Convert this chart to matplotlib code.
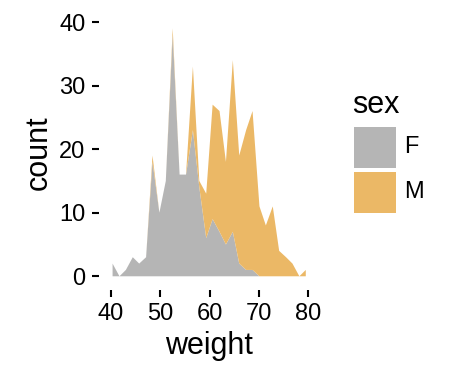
import matplotlib.pyplot as plt
from matplotlib.patches import Rectangle

plt.rcParams['font.family'] = ['Liberation Sans', 'DejaVu Sans']

# bin centres (weight) and counts per sex
weight = [40.3, 41.7, 43.0, 44.4, 45.7, 47.1, 48.4, 49.8, 51.1, 52.5,
          53.9, 55.2, 56.6, 57.9, 59.3, 60.6, 62.0, 63.3, 64.7, 66.0,
          67.4, 68.7, 70.1, 71.4, 72.8, 74.1, 75.5, 76.8, 78.2, 79.5]
count_f = [2, 0, 1, 3, 2, 3, 18, 10, 15, 38,
           16, 16, 23, 14, 6, 9, 7, 5, 7, 2,
           1, 1, 0, 0, 0, 0, 0, 0, 0, 0]
count_m = [0, 0, 0, 0, 0, 0, 1, 0, 0, 1,
           0, 0, 10, 1, 7, 18, 19, 13, 27, 17,
           22, 25, 11, 8, 11, 4, 3, 2, 0, 1]
sexes = ["F", "M"]
colors = ["#B5B5B5", "#EBB866"]

fig = plt.figure(figsize=(4.74, 3.79), dpi=100)
ax = fig.add_axes([0.2167, 0.2383, 0.4492, 0.7195])

ax.stackplot(weight, count_f, count_m, colors=colors, linewidth=0)

ax.set_xlim(38.3, 81.5)
ax.set_ylim(-1.95, 40.95)
ax.set_xticks([40, 50, 60, 70, 80])
ax.set_yticks([0, 10, 20, 30, 40])

for side in ["top", "right"]:
    ax.spines[side].set_visible(False)
ax.spines["left"].set_position(("outward", 2.5))
ax.spines["bottom"].set_position(("outward", 1))
ax.spines["left"].set_visible(False)
ax.spines["bottom"].set_visible(False)

ax.tick_params(axis="both", length=5, width=1.5, color="black",
               labelsize=17, labelcolor="black")
ax.tick_params(axis="y", pad=5)
ax.tick_params(axis="x", pad=4)

ax.set_xlabel("weight", fontsize=22, labelpad=4.5)
ax.set_ylabel("count", fontsize=22, labelpad=4)

# legend drawn by hand, ggplot style
fig.text(352 / 474, 1 - 113 / 379, "sex", fontsize=22, ha="left", va="baseline")
key_tops = [126.7, 171.7]
for top, c, lab in zip(key_tops, colors, sexes):
    fig.add_artist(Rectangle((354.3 / 474, 1 - (top + 41) / 379), 41.4 / 474, 41 / 379,
                             transform=fig.transFigure, facecolor=c, edgecolor="none"))
    fig.text(404 / 474, 1 - (top + 20.5) / 379, lab, fontsize=17,
             ha="left", va="center")

fig.savefig("out.png", dpi=100)
